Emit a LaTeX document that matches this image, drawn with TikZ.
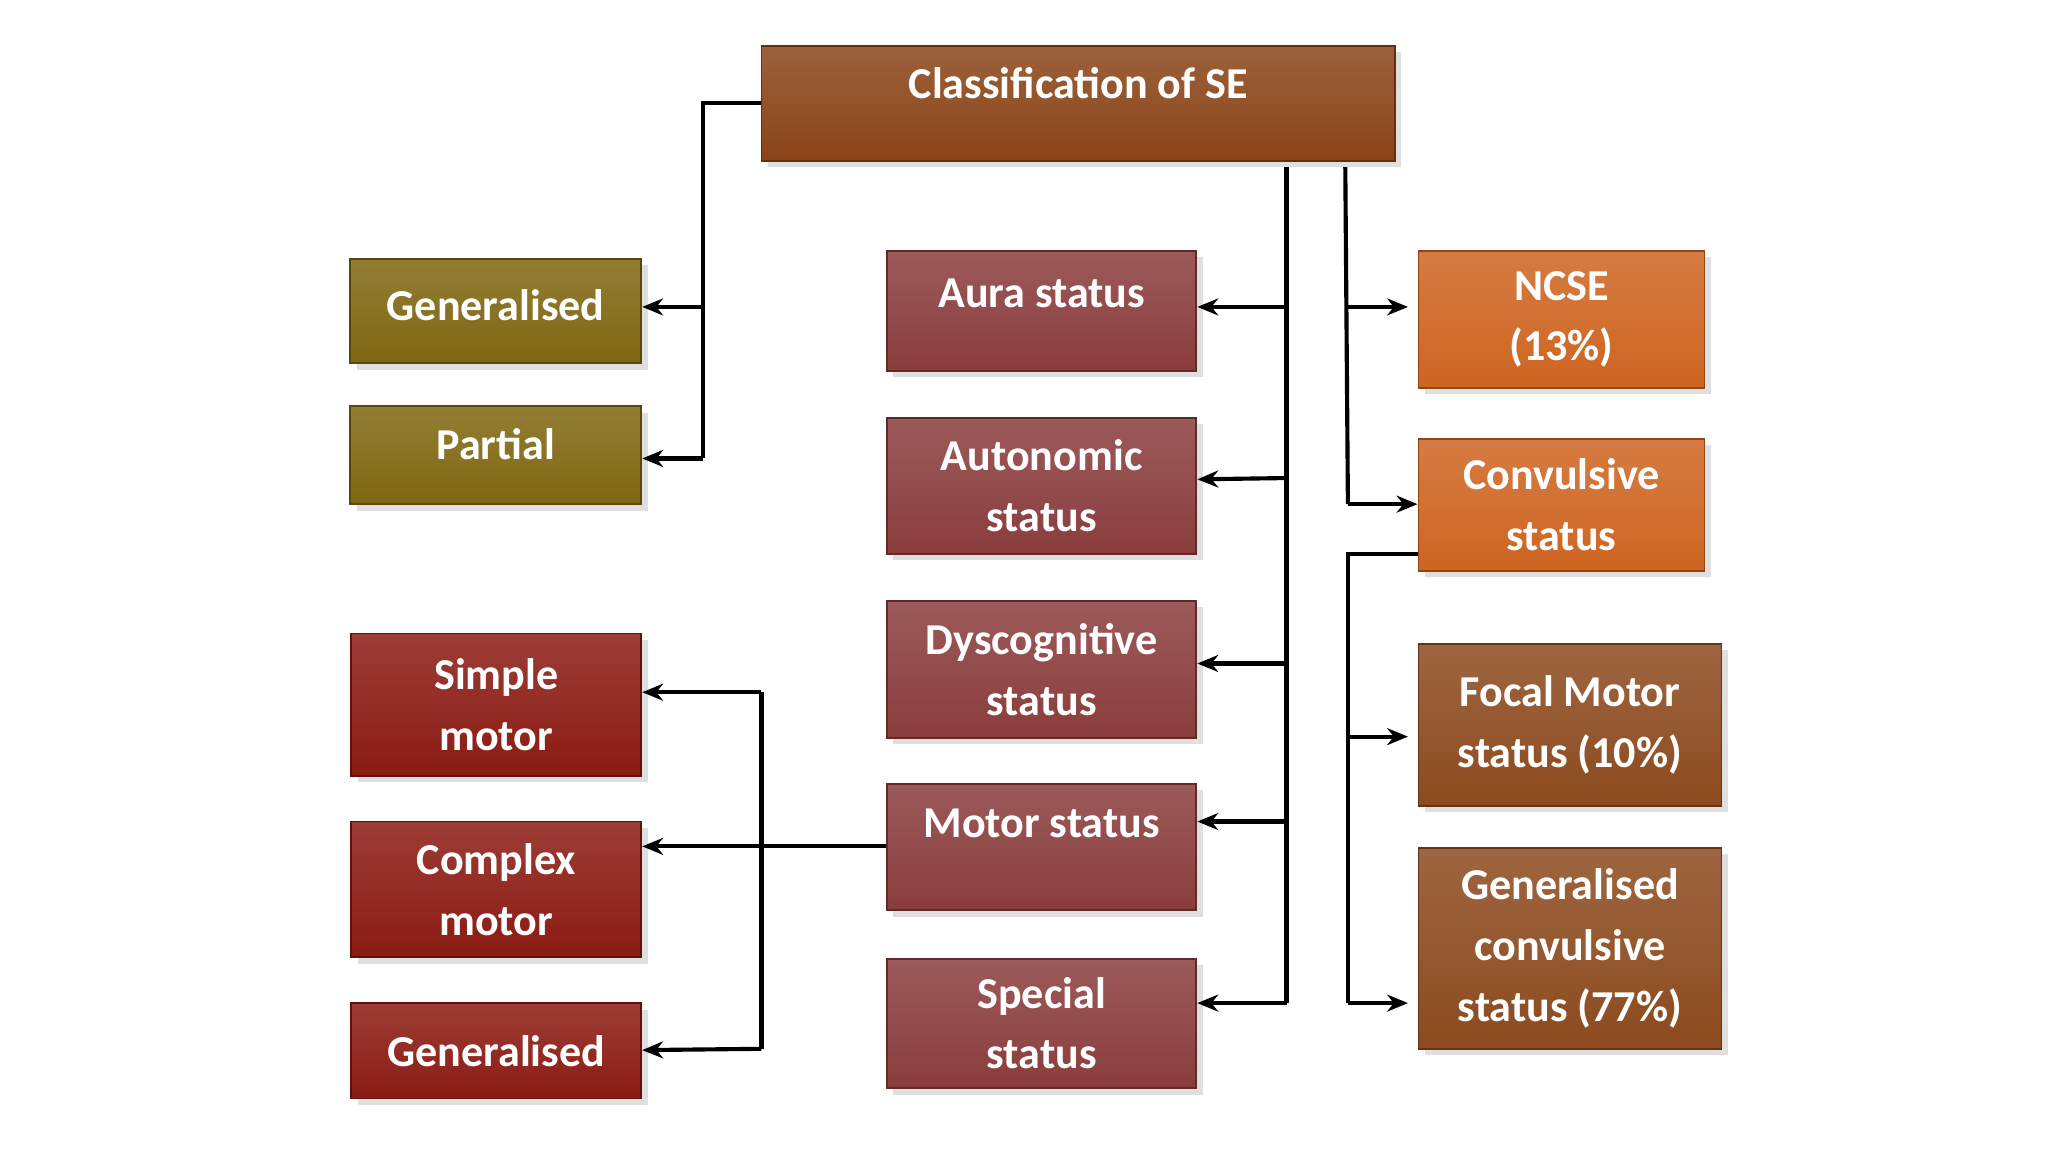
\documentclass[tikz,border=0pt]{standalone}
\usepackage{fontspec}
\setmainfont{Carlito}
\usetikzlibrary{arrows.meta,shadows}
\definecolor{cTitle}{HTML}{8A4418}
\definecolor{cOlive}{HTML}{7F6610}
\definecolor{cMid}{HTML}{8A3C3C}
\definecolor{cOr}{HTML}{CE6420}
\definecolor{cBr}{HTML}{8C4A1E}
\definecolor{cRed}{HTML}{8A1A12}
\tikzset{
 box/.style={draw=#1!70!black, line width=0.4pt, top color=#1!85!white, bottom color=#1, middle color=#1!92!white,
   text=white, font=\fontsize{9.6pt}{13.2pt}\selectfont\bfseries, align=center, inner sep=0pt,
   drop shadow={opacity=0.25, shadow xshift=0.5mm, shadow yshift=-0.5mm}},
 conn/.style={line width=0.9pt, black},
 arr/.style={conn, -{Stealth[length=1.6mm,width=1.3mm]}}
}
\newcommand{\bx}[7]{% name, color, x1,y1,x2,y2, text
 \node[box=#2, minimum width={(#5-#3)*0.01cm}, minimum height={(#6-#4)*0.01cm}] (#1) at ({(#3+#5)/2},{(#4+#6)/2}) {#7};}
\begin{document}
\begin{tikzpicture}[x=0.01cm,y=-0.01cm]
\useasboundingbox[fill=white] (0,0) rectangle (1568,882);
\bx{title}{cTitle}{583}{35}{1068}{123}{\raisebox{0.9em}{Classification of SE}}
\bx{gen1}{cOlive}{268}{198}{491}{278}{\raisebox{0.25em}{Generalised}}
\bx{part}{cOlive}{268}{311}{491}{386}{\raisebox{0.5em}{Partial}}
\bx{aura}{cMid}{679}{192}{916}{284}{\raisebox{0.8em}{Aura status}}
\bx{auto}{cMid}{679}{320}{916}{424}{Autonomic\\status}
\bx{dys}{cMid}{679}{460}{916}{565}{Dyscognitive\\status}
\bx{mot}{cMid}{679}{600}{916}{697}{\raisebox{1.1em}{Motor status}}
\bx{spec}{cMid}{679}{734}{916}{833}{Special\\status}
\bx{ncse}{cOr}{1086}{192}{1305}{297}{NCSE\\(13\%)}
\bx{conv}{cOr}{1086}{336}{1305}{437}{Convulsive\\status}
\bx{focal}{cBr}{1086}{493}{1318}{617}{Focal Motor\\status (10\%)}
\bx{gconv}{cBr}{1086}{649}{1318}{803}{Generalised\\convulsive\\status (77\%)}
\bx{simp}{cRed}{269}{485}{491}{594}{Simple\\motor}
\bx{comp}{cRed}{269}{629}{491}{733}{Complex\\motor}
\bx{gen2}{cRed}{269}{768}{491}{841}{Generalised}
% left of title
\draw[conn] (title.west |- 0,79) -- (538,79) -- (538,351);
\draw[arr] (538,235) -- (gen1.east |- 0,235);
\draw[arr] (538,351) -- (part.east |- 0,351);
% middle trunk
\coordinate (t1) at (985,128);
\draw[conn] (t1) -- (985,768);
\draw[arr] (985,235) -- (aura.east |- 0,235);
\draw[arr] (985,366) -- (auto.east |- 0,367);
\draw[arr] (985,508) -- (dys.east |- 0,508);
\draw[arr] (985,629) -- (mot.east |- 0,629);
\draw[arr] (985,768) -- (spec.east |- 0,768);
% right trunk
\coordinate (t2) at (1030,128);
\draw[conn] (t2) -- (1032,386);
\draw[arr] (1031,235) -- (1078,235);
\draw[arr] (1032,386) -- (conv.west |- 0,386);
\draw[conn] (conv.west |- 0,424) -- (1032,424) -- (1032,768);
\draw[arr] (1032,564) -- (1078,564);
\draw[arr] (1032,768) -- (1078,768);
% motor subtree
\draw[arr] (mot.west |- 0,648) -- (comp.east |- 0,648);
\draw[conn] (583,530) -- (583,803);
\draw[arr] (583,530) -- (simp.east |- 0,530);
\draw[arr] (583,803) -- (gen2.east |- 0,804);
\end{tikzpicture}
\end{document}
